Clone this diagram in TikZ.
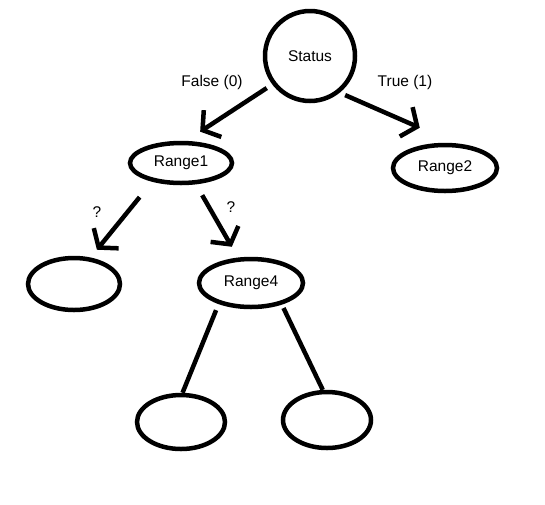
\documentclass[tikz,border=0pt]{standalone}
\usepackage{fontspec}
\setmainfont{Liberation Sans}
\usetikzlibrary{arrows.meta,shapes.geometric}

\tikzset{
  leaf/.style={draw, ellipse, line width=4.5pt, inner sep=0pt},
  txt/.style={inner sep=0pt, font=\fontsize{15.5pt}{18pt}\selectfont},
  arr/.style={line width=4.5pt, -{Straight Barb[length=12pt,width=32pt]}},
  stick/.style={line width=4.5pt}
}

\begin{document}
\begin{tikzpicture}[x=1pt,y=-1pt]
  \useasboundingbox (0,0) rectangle (545,504);
  \node[draw, circle, line width=4.5pt, minimum size=90pt, txt] (status) at (310,56) {Status};
  \node[leaf, txt, minimum width=102pt, minimum height=40pt] (range1) at (181,163) {Range1};
  \node[leaf, txt, minimum width=104pt, minimum height=46pt] (range2) at (445,168) {Range2};
  \node[leaf, minimum width=92pt, minimum height=52pt] (blank1) at (74,284) {};
  \node[leaf, txt, minimum width=104pt, minimum height=48pt] (range4) at (251,283) {Range4};
  \node[leaf, minimum width=88pt, minimum height=54pt] (blank2) at (181,422) {};
  \node[leaf, minimum width=88pt, minimum height=56pt] (blank3) at (327,420) {};

  \draw[arr, shorten <=6.6pt, shorten >=16.8pt] (status.217) -- (range1.77);
  \draw[arr, shorten <=5.9pt, shorten >=38.5pt] (status.309) -- (range2.68);
  \draw[arr, shorten <=19.9pt, shorten >=10pt] (range1.213) -- (blank1.58);
  \draw[arr, shorten <=12.5pt, shorten >=12.4pt] (range1.305) -- (range4.117);
  \draw[stick, shorten <=6.6pt] (range4.213) -- (blank2.87);
  \draw[stick, shorten <=3.8pt] (range4.325) -- (blank3.98);

  \node[txt] (lfalse) at (212,82) {False (0)};
  \node[txt] (ltrue) at (405,82) {True (1)};
  \node[txt] (q1) at (97,212) {?};
  \node[txt] (q2) at (231,207) {?};
\end{tikzpicture}
\end{document}
